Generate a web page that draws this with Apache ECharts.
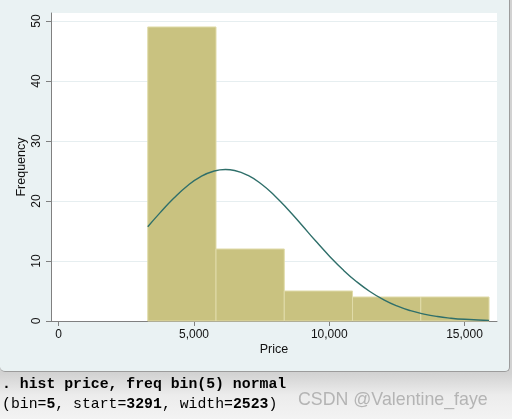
<!DOCTYPE html>
<html>
<head>
<meta charset="utf-8">
<script src="https://cdn.jsdelivr.net/npm/echarts@6/dist/echarts.min.js"></script>
<style>
  html, body { margin: 0; padding: 0; width: 512px; height: 419px; overflow: hidden; }
  body { position: relative; background: linear-gradient(#d2d2d2 0px, #d2d2d2 373px, #ececec 395px, #f3f3f3 419px); }
  #panel { position: absolute; left: 0; top: 0; width: 510px; height: 372px; background: #eaf2f3;
           border-right: 1px solid #9c9c9c; border-bottom: 1px solid #9c9c9c; border-radius: 0 0 5px 5px; box-sizing: border-box; }
  #chart { position: absolute; left: 0; top: 0; width: 512px; height: 419px; }
  .con { position: absolute; left: 2px; font-family: "Liberation Mono", "DejaVu Sans Mono", monospace; font-size: 14.8px; color: #000; white-space: pre; }
  #l1 { top: 376px; font-weight: bold; }
  #l2 { top: 396px; }
  #l2 b { font-weight: bold; }
  #wm { position: absolute; left: 298px; top: 389px; font-family: "Liberation Sans", Arial, sans-serif; font-size: 17.8px; color: #b4b4b4; white-space: pre; }
</style>
</head>
<body>
<div id="panel"></div>
<div id="chart"></div>
<div class="con" id="l1">. hist price, freq bin(5) normal</div>
<div class="con" id="l2">(bin=<b>5</b>, start=<b>3291</b>, width=<b>2523</b>)</div>
<div id="wm">CSDN @Valentine_faye</div>
<script>
// Histogram bin edges (price) and frequencies
const binEdges = [3291, 5814, 8337, 10860, 13383, 15906];
const frequencies = [49, 12, 5, 4, 4];

// Normal density overlay (price, frequency)
const curveX = [3291, 3750, 4250, 4750, 5250, 5750, 6165, 6500, 7000, 7500, 8000, 8500, 9000, 9500,
                10000, 10500, 11000, 11500, 12000, 12500, 13000, 13500, 14000, 14500, 15000, 15500, 15906];
const curveY = [15.70, 18.06, 20.45, 22.51, 24.06, 25.00, 25.25, 25.09, 24.26, 22.79, 20.81, 18.46, 15.91, 13.32,
                10.85, 8.57, 6.59, 4.92, 3.57, 2.51, 1.72, 1.15, 0.74, 0.47, 0.28, 0.17, 0.11];

// Tick labels
const xTicks = [0, 5000, 10000, 15000];
const yTicks = [0, 10, 20, 30, 40, 50];

const barData = frequencies.map((f, i) => [binEdges[i], binEdges[i + 1], f]);
const curveData = curveX.map((x, i) => [x, curveY[i]]);

const chart = echarts.init(document.getElementById('chart'), null, { renderer: 'canvas' });
const axisFont = { fontFamily: 'Liberation Sans, Arial, sans-serif', fontSize: 12, color: '#111' };

chart.setOption({
  backgroundColor: 'transparent',
  animation: false,
  grid: { left: 51, top: 13, width: 446, height: 308, show: true, backgroundColor: '#ffffff', borderWidth: 0 },
  xAxis: {
    type: 'value', min: -285, max: 16200,
    name: 'Price', nameLocation: 'middle', nameGap: 22, nameMoveOverlap: false,
    nameTextStyle: Object.assign({}, axisFont, { fontSize: 12.5 }),
    axisLine: { show: true, onZero: false, lineStyle: { color: '#808080', width: 1 } },
    axisTick: { show: true, length: 5, lineStyle: { color: '#808080' }, customValues: xTicks },
    axisLabel: Object.assign({}, axisFont, { margin: 8, customValues: xTicks,
      formatter: v => v.toLocaleString('en-US') }),
    splitLine: { show: false }
  },
  yAxis: {
    type: 'value', min: 0, max: 51.33,
    name: 'Frequency', nameLocation: 'middle', nameGap: 23, nameRotate: 90, nameMoveOverlap: false,
    nameTextStyle: Object.assign({}, axisFont, { fontSize: 12.5 }),
    axisLine: { show: true, onZero: false, lineStyle: { color: '#808080', width: 1 } },
    axisTick: { show: true, length: 5, lineStyle: { color: '#808080' }, customValues: yTicks },
    axisLabel: Object.assign({}, axisFont, { margin: 8, rotate: 90, customValues: yTicks }),
    splitLine: { show: true, lineStyle: { color: '#e6eef0', width: 1 } }
  },
  series: [
    {
      type: 'custom',
      data: barData,
      encode: { x: [0, 1], y: 2 },
      renderItem: function (params, api) {
        const p0 = api.coord([api.value(0), api.value(2)]);
        const p1 = api.coord([api.value(1), 0]);
        return {
          type: 'rect',
          shape: { x: p0[0], y: p0[1], width: p1[0] - p0[0], height: p1[1] - p0[1] },
          style: { fill: '#c9c280', stroke: '#e0dba9', lineWidth: 1 }
        };
      },
      z: 2
    },
    {
      type: 'line',
      data: curveData,
      smooth: true,
      showSymbol: false,
      lineStyle: { color: '#2f6f6a', width: 1.4 },
      z: 3
    }
  ]
});
</script>
</body>
</html>
